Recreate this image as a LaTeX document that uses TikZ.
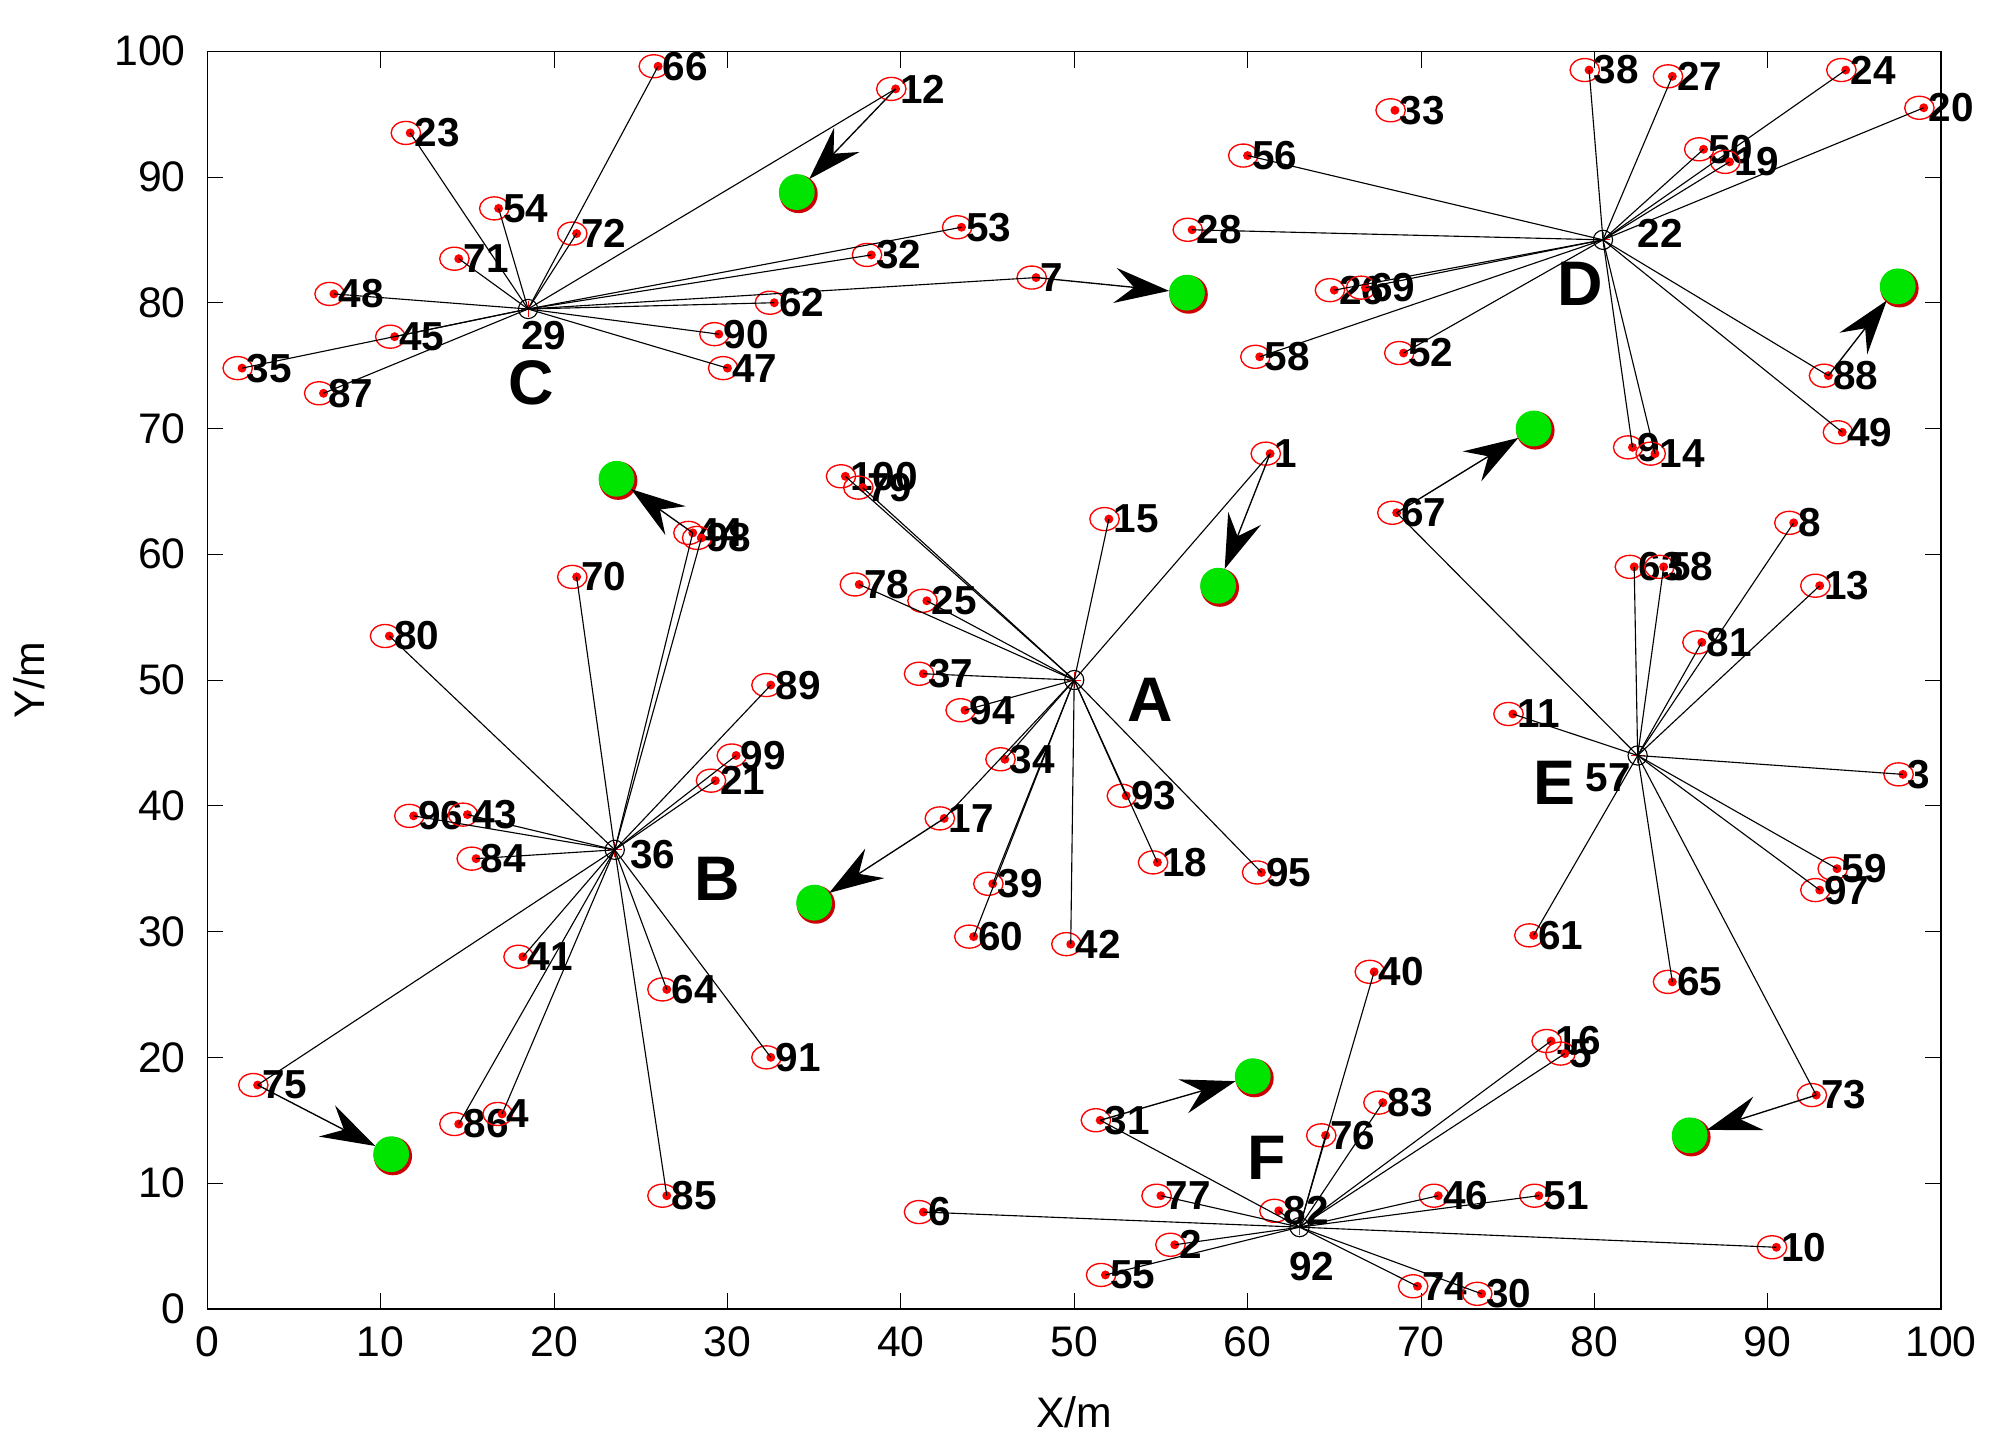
\documentclass[tikz,border=0pt]{standalone}
\usepackage{fontspec}
\setmainfont{Liberation Sans}
\usetikzlibrary{arrows.meta,calc}
\begin{document}
\begin{tikzpicture}[x=0.271cm,y=0.1966cm,
  lbl/.style={anchor=west,inner sep=0pt,font=\fontsize{18}{18}\selectfont\bfseries},
  big/.style={font=\fontsize{28}{28}\selectfont\bfseries},
  edge/.style={black,line width=0.5pt},
  arr/.style={-{Stealth[length=0.85cm,width=0.55cm,inset=0.3cm]},black,line width=0.6pt,shorten >=0.28cm},
  tick/.style={font=\fontsize{19}{19}\selectfont}]
\useasboundingbox (-11.96,-10.88) rectangle (103.17,104.07);
\newcommand{\pnode}[4]{%
  \coordinate (#1) at (#2,#3);
  \draw[red,line width=0.6pt] ($(#1)+(-0.25,0)$) ellipse (0.23cm and 0.18cm);
  \fill[red] (#1) circle (0.07cm);
  \node[lbl] (l#1) at ($(#1)+(0.25,0)$) {#4};}
\newcommand{\hnode}[3]{%
  \coordinate (#1) at (#2,#3);
  \draw[black,line width=0.5pt] (#1) circle (0.15cm);
  \draw[red,line width=0.4pt] ($(#1)+(-0.4,0)$) -- ($(#1)+(0.4,0)$) ($(#1)+(0,-0.6)$) -- ($(#1)+(0,0.6)$);}
\newcommand{\gnode}[3]{%
  \coordinate (#1) at (#2,#3);
  \fill[red!80!black] ($(#1)+(0.1,-0.15)$) circle (0.3cm);
  \fill[green!90!black] (#1) circle (0.28cm);}
% axes
\draw[line width=0.6pt] (0,0) rectangle (100,100);
\foreach \v in {0,10,...,100}{
  \draw (\v,0) -- (\v,1.3) (\v,100) -- (\v,98.7);
  \draw (0,\v) -- (0.9,\v) (100,\v) -- (99.1,\v);
  \node[tick,below] (xt\v) at (\v,-0.8) {\v};
  \node[tick,left] (yt\v) at (-0.8,\v) {\v};}
\node[tick] (xl) at (50,-8.2) {X/m};
\node[tick,rotate=90] (yl) at (-10.3,50) {Y/m};
% heads
\hnode{A}{50}{50} \hnode{B}{23.5}{36.5} \hnode{C}{18.5}{79.5}
\hnode{D}{80.5}{85} \hnode{E}{82.5}{44} \hnode{F}{63}{6.5}
% C cluster
\pnode{n66}{26}{98.8}{66} \pnode{n12}{39.7}{97}{12} \pnode{n23}{11.7}{93.5}{23}
\pnode{n54}{16.8}{87.5}{54} \pnode{n72}{21.3}{85.5}{72} \pnode{n71}{14.5}{83.5}{71}
\pnode{n48}{7.3}{80.7}{48} \pnode{n45}{10.8}{77.3}{45} \pnode{n35}{2}{74.8}{35}
\pnode{n87}{6.7}{72.8}{87} \pnode{n53}{43.5}{86}{53} \pnode{n32}{38.3}{83.8}{32}
\pnode{n62}{32.7}{80}{62} \pnode{n90}{29.5}{77.5}{90} \pnode{n47}{30}{74.8}{47}
\pnode{n7}{47.8}{82}{7}
% D cluster
\pnode{n38}{79.7}{98.5}{38} \pnode{n27}{84.5}{98}{27} \pnode{n24}{94.5}{98.5}{24}
\pnode{n20}{99}{95.5}{20} \pnode{n33}{68.5}{95.3}{33} \pnode{n56}{60}{91.7}{56}
\pnode{n50}{86.3}{92.2}{50} \pnode{n19}{87.8}{91.2}{19} \pnode{n28}{56.8}{85.8}{28}
\pnode{n26}{65}{81}{26} \pnode{n69}{66.8}{81.2}{69} \pnode{n52}{69}{76}{52}
\pnode{n58}{60.7}{75.7}{58} \pnode{n88}{93.5}{74.2}{88} \pnode{n49}{94.3}{69.7}{49}
\pnode{n9}{82.2}{68.5}{9} \pnode{n14}{83.5}{68}{14}
% A cluster
\pnode{n100}{36.8}{66.2}{100} \pnode{n79}{37.8}{65.3}{79} \pnode{n15}{52}{62.8}{15}
\pnode{n1}{61.3}{68}{1} \pnode{n78}{37.6}{57.6}{78} \pnode{n25}{41.5}{56.3}{25}
\pnode{n37}{41.3}{50.5}{37} \pnode{n94}{43.7}{47.6}{94} \pnode{n34}{46}{43.7}{34}
\pnode{n17}{42.5}{39}{17} \pnode{n39}{45.3}{33.8}{39} \pnode{n60}{44.2}{29.6}{60}
\pnode{n42}{49.8}{29}{42} \pnode{n93}{53}{40.8}{93} \pnode{n18}{54.8}{35.5}{18}
\pnode{n95}{60.8}{34.7}{95}
% B cluster
\pnode{n44}{28}{61.7}{44} \pnode{n98}{28.5}{61.3}{98} \pnode{n70}{21.3}{58.2}{70}
\pnode{n80}{10.5}{53.5}{80} \pnode{n89}{32.5}{49.6}{89} \pnode{n99}{30.5}{44}{99}
\pnode{n21}{29.3}{42}{21} \pnode{n96}{11.9}{39.2}{96} \pnode{n43}{15}{39.3}{43}
\pnode{n84}{15.5}{35.8}{84} \pnode{n41}{18.2}{28}{41} \pnode{n64}{26.5}{25.4}{64}
\pnode{n91}{32.5}{20}{91} \pnode{n75}{2.9}{17.8}{75} \pnode{n86}{14.5}{14.7}{86}
\pnode{n4}{17}{15.5}{4} \pnode{n85}{26.5}{9}{85}
% E cluster
\pnode{n67}{68.6}{63.3}{67} \pnode{n8}{91.5}{62.5}{8} \pnode{n63}{82.3}{59}{63}
\pnode{n58b}{84}{59}{58} \pnode{n13}{93}{57.5}{13} \pnode{n81}{86.2}{53}{81}
\pnode{n11}{75.3}{47.3}{11} \pnode{n3}{97.8}{42.5}{3} \pnode{n59}{94}{35}{59}
\pnode{n97}{93}{33.3}{97} \pnode{n61}{76.5}{29.7}{61} \pnode{n65}{84.5}{26}{65}
\pnode{n73}{92.8}{17}{73}
% F cluster
\pnode{n40}{67.3}{26.8}{40} \pnode{n16}{77.5}{21.3}{16} \pnode{n5}{78.3}{20.3}{5}
\pnode{n83}{67.8}{16.4}{83} \pnode{n76}{64.5}{13.8}{76} \pnode{n31}{51.5}{15}{31}
\pnode{n77}{55}{9}{77} \pnode{n46}{71}{9}{46} \pnode{n51}{76.8}{9}{51}
\pnode{n6}{41.3}{7.7}{6} \pnode{n82}{61.8}{7.8}{82} \pnode{n2}{55.8}{5.1}{2}
\pnode{n55}{51.8}{2.7}{55} \pnode{n74}{69.8}{1.8}{74} \pnode{n30}{73.5}{1.2}{30}
\pnode{n10}{90.5}{4.9}{10}
% edges
\foreach \n in {66,12,23,54,72,71,48,45,35,87,53,32,62,90,47,7} \draw[edge] (C) -- (n\n);
\foreach \n in {38,27,24,20,56,50,19,28,26,69,52,58,88,49,9,14} \draw[edge] (D) -- (n\n);
\foreach \n in {100,79,15,1,78,25,37,94,34,17,39,60,42,93,18,95} \draw[edge] (A) -- (n\n);
\foreach \n in {44,98,70,80,89,99,21,96,43,84,41,64,91,75,86,4,85} \draw[edge] (B) -- (n\n);
\foreach \n in {67,8,63,58b,13,81,11,3,59,97,61,65,73} \draw[edge] (E) -- (n\n);
\foreach \n in {40,16,5,83,76,31,77,46,51,6,82,2,55,74,30,10} \draw[edge] (F) -- (n\n);
% head labels
\node[lbl,anchor=center] (t29) at (19.4,77.4) {29};
\node[lbl,anchor=center] (t36) at (25.7,36.1) {36};
\node[lbl,anchor=center] (t22) at (83.8,85.5) {22};
\node[lbl,anchor=center] (t57) at (80.8,42.2) {57};
\node[lbl,anchor=center] (t92) at (63.7,3.4) {92};
\node[big] (tA) at (54.4,48.4) {A};
\node[big] (tB) at (29.4,34.2) {B};
\node[big] (tC) at (18.7,73.6) {C};
\node[big] (tD) at (79.2,81.5) {D};
\node[big] (tE) at (77.7,41.8) {E};
\node[big] (tF) at (61.1,12) {F};
% green targets
\gnode{g1}{34}{88.8} \gnode{g2}{56.5}{80.8} \gnode{g3}{23.6}{66}
\gnode{g4}{58.3}{57.5} \gnode{g5}{35}{32.3} \gnode{g6}{10.6}{12.3}
\gnode{g7}{76.5}{70} \gnode{g8}{97.5}{81.3} \gnode{g9}{85.5}{13.8}
\gnode{g10}{60.3}{18.5}
\draw[arr] (n12) -- (g1);
\draw[arr] (n7) -- (g2);
\draw[arr] (n44) -- (g3);
\draw[arr] (n1) -- (g4);
\draw[arr] (n17) -- (g5);
\draw[arr] (n75) -- (g6);
\draw[arr] (n67) -- (g7);
\draw[arr] (n88) -- (g8);
\draw[arr] (n73) -- (g9);
\draw[arr] (n31) -- (g10);
\end{tikzpicture}
\end{document}
